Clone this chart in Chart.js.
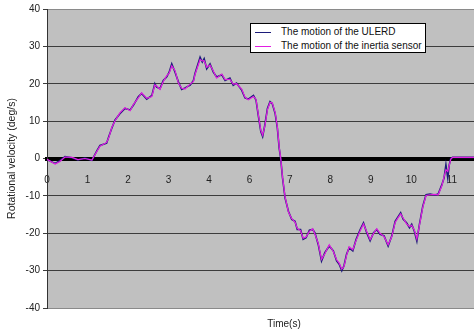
<!DOCTYPE html>
<html>
<head>
<meta charset="utf-8">
<script src="https://cdn.jsdelivr.net/npm/chart.js@4"></script>
<style>
    html, body { margin: 0; padding: 0; background: #fff; overflow: hidden; }
    #wrap { position: relative; width: 474px; height: 333px; overflow: hidden; }
    #chart { position: absolute; left: 0; top: 0; }
    #legend {
        position: absolute; left: 250px; top: 23px; width: 174px; height: 28px;
        background: #fff; border: 1px solid #000;
        font: 10px "Liberation Sans", Arial, sans-serif; color: #111;
    }
    #legend .item { height: 14px; line-height: 14px; white-space: nowrap; position: relative; padding-left: 30px; }
    #legend .item:first-child { margin-top: 1px; }
    #legend .swatch { position: absolute; left: 4px; top: 7px; width: 16px; height: 1px; }
</style>
</head>
<body>
<div id="wrap">
    <canvas id="chart" width="530" height="333"></canvas>
    <div id="legend"></div>
</div>
<script>
// time axis (s) and angular velocity readings (deg/s)
const timeS = [
    0.00, 0.22, 0.35, 0.49, 0.68, 0.84, 1.03, 1.22, 1.35, 1.44,
    1.62, 1.68, 1.76, 1.85, 1.98, 2.12, 2.26, 2.35, 2.48, 2.57,
    2.71, 2.85, 2.93, 2.98, 3.07, 3.16, 3.25, 3.32, 3.39, 3.48,
    3.57, 3.66, 3.75, 3.89, 3.98, 4.02, 4.16, 4.22, 4.27, 4.34,
    4.43, 4.52, 4.61, 4.75, 4.84, 4.97, 5.06, 5.15, 5.29, 5.38,
    5.47, 5.61, 5.68, 5.74, 5.81, 5.86, 5.92, 5.99, 6.06, 6.12,
    6.20, 6.26, 6.31, 6.35, 6.40, 6.47, 6.56, 6.65, 6.74, 6.80,
    6.89, 6.96, 7.04, 7.13, 7.22, 7.28, 7.37, 7.46, 7.55, 7.67,
    7.78, 7.87, 7.94, 8.01, 8.07, 8.14, 8.21, 8.31, 8.40, 8.51,
    8.60, 8.69, 8.78, 8.87, 8.96, 9.05, 9.16, 9.27, 9.37, 9.46,
    9.55, 9.61, 9.68, 9.77, 9.85, 9.91, 9.98, 10.05, 10.12, 10.21,
    10.30, 10.41, 10.54, 10.63, 10.73, 10.79, 10.84, 10.89, 10.93, 10.97,
    11.02, 11.50, 12.00, 12.90
];
const ulerd = [
    -0.3, -1.3, -0.6, 0.5, 0.2, -0.4, 0.1, -0.5, 2.0, 3.5,
    4.1, 5.9, 8.1, 10.3, 12.0, 13.4, 13.0, 14.3, 16.5, 17.4,
    15.9, 16.9, 20.0, 19.1, 18.7, 20.9, 21.8, 23.1, 25.3, 23.1,
    20.5, 18.5, 18.9, 19.6, 20.9, 22.7, 27.1, 25.8, 26.7, 24.0,
    25.3, 23.1, 21.8, 22.4, 20.9, 21.5, 19.6, 20.2, 18.3, 16.2,
    15.9, 16.9, 15.6, 11.6, 7.2, 5.9, 9.0, 13.4, 15.2, 14.7,
    12.0, 8.1, 2.7, 0.0, -5.2, -10.6, -14.1, -16.3, -16.8, -19.0,
    -19.0, -21.6, -21.2, -19.2, -19.0, -19.9, -23.0, -27.4, -25.2, -23.4,
    -24.7, -27.4, -28.3, -30.0, -28.7, -25.6, -23.9, -24.7, -21.6, -19.0,
    -17.2, -19.9, -22.0, -19.9, -19.0, -20.3, -20.7, -23.4, -20.7, -16.8,
    -15.4, -14.5, -16.3, -17.2, -18.5, -17.6, -19.4, -22.1, -17.6, -12.8,
    -9.7, -9.5, -9.8, -9.5, -7.0, -5.2, -1.7, -5.2, -1.7, 0.0,
    0.3, 0.3, 0.3, 0.3
];
const sensor = [
    -0.2, -1.5, -0.8, 0.4, 0.3, -0.3, 0.0, -0.4, 1.8, 3.3,
    4.3, 5.6, 8.3, 10.1, 12.2, 13.6, 12.8, 14.5, 16.2, 17.6,
    16.1, 16.6, 19.7, 19.4, 18.5, 20.6, 22.1, 22.8, 24.8, 23.5,
    20.2, 18.8, 18.6, 19.9, 20.6, 22.4, 26.5, 26.1, 26.2, 24.4,
    25.0, 23.4, 21.5, 22.6, 21.1, 21.2, 19.9, 20.0, 18.6, 16.4,
    15.7, 16.6, 15.8, 11.9, 7.5, 6.2, 8.7, 13.1, 15.0, 14.9,
    12.3, 8.4, 3.0, 0.2, -5.0, -10.3, -14.3, -16.1, -17.0, -18.7,
    -19.3, -21.3, -21.0, -19.5, -18.8, -20.2, -22.7, -27.0, -25.5, -23.1,
    -24.9, -27.1, -28.0, -29.6, -28.9, -25.9, -23.6, -24.4, -21.9, -19.3,
    -17.5, -19.6, -21.7, -20.1, -18.8, -20.0, -20.9, -23.1, -20.9, -17.1,
    -15.7, -14.8, -16.0, -17.5, -18.2, -17.9, -19.1, -21.5, -17.9, -13.1,
    -9.9, -9.7, -9.6, -9.7, -7.3, -4.9, -3.0, -3.5, -1.9, -0.2,
    0.3, 0.3, 0.3, 0.3
];

// Excel category labels: every 1.1 s, rounded
const xTickValues = [0, 1.1, 2.2, 3.3, 4.4, 5.5, 6.6, 7.7, 8.8, 9.9, 11.0];
const xTickLabels = ['0', '1', '2', '3', '4', '6', '7', '8', '9', '10', '11'];

const seriesNames = ['The motion of the ULERD', 'The motion of the inertia sensor'];
const seriesColors = ['#1c1c7a', '#e21ee2'];

const X_MAX = 12.88;
const FONT = '"Liberation Sans", Arial, sans-serif';

// grey plot area like the spreadsheet
const plotBg = {
    id: 'plotBg',
    beforeDraw(chart) {
        const { ctx, chartArea: a } = chart;
        ctx.save();
        ctx.fillStyle = '#c0c0c0';
        ctx.fillRect(a.left, a.top, a.right - a.left, a.bottom - a.top);
        ctx.strokeStyle = '#8a8a8a';
        ctx.lineWidth = 1;
        ctx.beginPath();
        ctx.moveTo(a.left, a.top + 0.5);
        ctx.lineTo(a.right, a.top + 0.5);
        ctx.stroke();
        ctx.restore();
    }
};

const toPoints = (ys) => timeS.map((t, i) => ({ x: t, y: ys[i] }));

const chart = new Chart(document.getElementById('chart'), {
    type: 'line',
    data: {
        datasets: [
            {
                label: seriesNames[1],
                data: toPoints(sensor),
                borderColor: seriesColors[1],
                borderWidth: 1.2,
                pointRadius: 0,
                tension: 0
            },
            {
                label: seriesNames[0],
                data: toPoints(ulerd),
                borderColor: seriesColors[0],
                borderWidth: 1.6,
                pointRadius: 0,
                tension: 0
            }
        ]
    },
    options: {
        responsive: false,
        animation: false,
        layout: { padding: { top: 7, right: 9, left: 0, bottom: 0 } },
        plugins: {
            legend: { display: false },
            tooltip: { enabled: false }
        },
        scales: {
            x: {
                type: 'linear',
                position: { y: 0 },
                min: 0,
                max: X_MAX,
                afterBuildTicks: (ax) => { ax.ticks = xTickValues.map(v => ({ value: v })); },
                grid: { display: false },
                border: { display: true, color: '#000', width: 4 },
                ticks: {
                    autoSkip: false,
                    maxRotation: 0,
                    padding: 8,
                    color: '#222',
                    font: { family: FONT, size: 10 },
                    callback: (v, i) => xTickLabels[i]
                }
            },
            xTitle: {
                type: 'linear',
                position: 'bottom',
                min: 0,
                max: X_MAX,
                grid: { display: false },
                border: { display: false },
                ticks: { display: false },
                afterFit: (s) => { s.height = 25; },
                title: {
                    display: true,
                    text: 'Time(s)',
                    color: '#222',
                    font: { family: FONT, size: 10 },
                    padding: { top: 0, bottom: 3 }
                }
            },
            y: {
                min: -40,
                max: 40,
                afterFit: (s) => { s.width = 47; },
                ticks: {
                    stepSize: 10,
                    padding: 3,
                    color: '#222',
                    font: { family: FONT, size: 10 }
                },
                grid: {
                    color: (c) => (Math.abs(c.tick.value) === 40 ? '#8a8a8a' : '#3c3c3c'),
                    lineWidth: 1,
                    tickLength: 4,
                    tickColor: '#3c3c3c'
                },
                border: { color: '#333', width: 1 },
                title: {
                    display: true,
                    text: 'Rotational velocity (deg/s)',
                    color: '#222',
                    font: { family: FONT, size: 10.5 },
                    padding: { top: 6, bottom: 0 }
                }
            }
        }
    },
    plugins: [plotBg]
});

// legend box inside the plot, built from the datasets
const legendEl = document.getElementById('legend');
[1, 0].forEach(idx => {
    const ds = chart.data.datasets[idx];
    const row = document.createElement('div');
    row.className = 'item';
    const sw = document.createElement('span');
    sw.className = 'swatch';
    sw.style.background = ds.borderColor;
    const tx = document.createElement('span');
    tx.textContent = ds.label;
    row.append(sw, tx);
    legendEl.appendChild(row);
});
</script>
</body>
</html>
